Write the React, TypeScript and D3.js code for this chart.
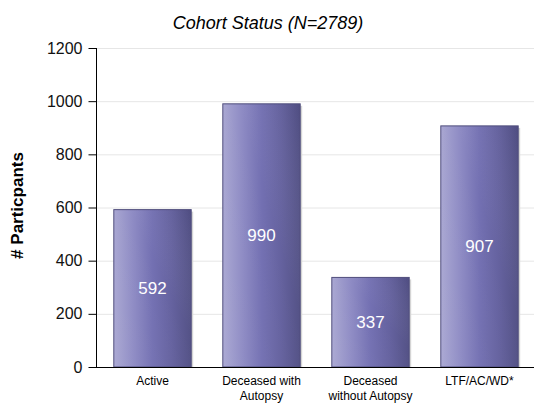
import React, { useEffect, useRef } from 'react';
import * as d3 from 'd3';

const categories = ['Active', 'Deceased with\nAutopsy', 'Deceased\nwithout Autopsy', 'LTF/AC/WD*'];
const values = [592, 990, 337, 907];
const yTicks = [0, 200, 400, 600, 800, 1000, 1200];

const width = 542;
const height = 412;
const margin = { top: 48, right: 8, bottom: 45, left: 96 };

function App() {
  const ref = useRef<SVGSVGElement>(null);

  useEffect(() => {
    const svg = d3.select(ref.current);
    svg.selectAll('*').remove();

    const x = d3.scaleBand<string>()
      .domain(categories)
      .range([margin.left + 2, width - margin.right])
      .paddingInner(0.29)
      .paddingOuter(0.145);

    const y = d3.scaleLinear()
      .domain([0, 1200])
      .range([height - margin.bottom, margin.top]);

    const defs = svg.append('defs');
    const grad = defs.append('linearGradient').attr('id', 'barGrad')
      .attr('x1', '0%').attr('x2', '100%').attr('y1', '0%').attr('y2', '0%');
    grad.append('stop').attr('offset', '0%').attr('stop-color', '#a9a7d2');
    grad.append('stop').attr('offset', '25%').attr('stop-color', '#8e8bc4');
    grad.append('stop').attr('offset', '50%').attr('stop-color', '#7370b2');
    grad.append('stop').attr('offset', '75%').attr('stop-color', '#65629f');
    grad.append('stop').attr('offset', '100%').attr('stop-color', '#545286');

    const shade = defs.append('linearGradient').attr('id', 'barShade')
      .attr('x1', '0%').attr('x2', '100%').attr('y1', '100%').attr('y2', '0%');
    shade.append('stop').attr('offset', '0%').attr('stop-color', '#fff').attr('stop-opacity', 0.04);
    shade.append('stop').attr('offset', '60%').attr('stop-color', '#fff').attr('stop-opacity', 0);
    shade.append('stop').attr('offset', '100%').attr('stop-color', '#2a2860').attr('stop-opacity', 0.12);

    // grid lines
    svg.append('g')
      .selectAll('line')
      .data(yTicks.slice(1))
      .join('line')
      .attr('x1', margin.left)
      .attr('x2', width - margin.right)
      .attr('y1', d => y(d) + 0.5)
      .attr('y2', d => y(d) + 0.5)
      .attr('stroke', '#e6e6e6')
      .attr('stroke-width', 1);

    // y axis
    const yAxis = svg.append('g')
      .attr('transform', `translate(${margin.left + 0.5},0)`)
      .call(d3.axisLeft(y).tickValues(yTicks).tickSize(8).tickPadding(6).tickFormat(d3.format('d')));
    yAxis.select('.domain').attr('d', `M0,${y(1200)}V${y(0)}`).attr('stroke', '#000');
    yAxis.selectAll('.tick line').attr('stroke', '#000');
    yAxis.selectAll('.tick text')
      .attr('font-family', 'Liberation Sans, Arial, sans-serif')
      .attr('font-size', 16)
      .attr('fill', '#111');

    const bars = svg.append('g')
      .selectAll('g')
      .data(values)
      .join('g');

    // shadow
    bars.append('rect')
      .attr('x', (d, i) => x(categories[i])! + 2)
      .attr('y', d => y(d) + 2)
      .attr('width', x.bandwidth())
      .attr('height', d => y(0) - y(d) - 2)
      .attr('fill', '#d4d4d4');

    bars.append('rect')
      .attr('x', (d, i) => x(categories[i])!)
      .attr('y', d => y(d))
      .attr('width', x.bandwidth())
      .attr('height', d => y(0) - y(d))
      .attr('fill', 'url(#barGrad)')
      .attr('stroke', '#4f4d7c')
      .attr('stroke-width', 1);

    bars.append('rect')
      .attr('x', (d, i) => x(categories[i])! + 0.5)
      .attr('y', d => y(d) + 0.5)
      .attr('width', x.bandwidth() - 1)
      .attr('height', d => y(0) - y(d) - 1)
      .attr('fill', 'url(#barShade)');

    bars.append('text')
      .attr('x', (d, i) => x(categories[i])! + x.bandwidth() / 2)
      .attr('y', d => (y(d) + y(0)) / 2 + 6)
      .attr('text-anchor', 'middle')
      .attr('font-family', 'Liberation Sans, Arial, sans-serif')
      .attr('font-size', 17)
      .attr('fill', '#fff')
      .text(d => d);

    // x axis line
    svg.append('line')
      .attr('x1', margin.left)
      .attr('x2', width - margin.right)
      .attr('y1', y(0) + 0.5)
      .attr('y2', y(0) + 0.5)
      .attr('stroke', '#000');

    // category labels
    const labels = svg.append('g')
      .selectAll('text')
      .data(categories)
      .join('text')
      .attr('x', d => x(d)! + x.bandwidth() / 2)
      .attr('y', y(0) + 18)
      .attr('text-anchor', 'middle')
      .attr('font-family', 'Liberation Sans, Arial, sans-serif')
      .attr('font-size', 12)
      .attr('fill', '#000');
    labels.each(function (d) {
      const t = d3.select(this);
      d.split('\n').forEach((line, i) => {
        t.append('tspan')
          .attr('x', x(d)! + x.bandwidth() / 2)
          .attr('dy', i === 0 ? 0 : 15)
          .text(line);
      });
    });

    // title
    svg.append('text')
      .attr('x', 268)
      .attr('y', 29)
      .attr('text-anchor', 'middle')
      .attr('font-family', 'Liberation Sans, Arial, sans-serif')
      .attr('font-size', 18)
      .attr('font-style', 'italic')
      .text('Cohort Status (N=2789)');

    // y axis title
    svg.append('text')
      .attr('transform', `translate(23,${(y(0) + y(1200)) / 2 - 2}) rotate(-90)`)
      .attr('text-anchor', 'middle')
      .attr('font-family', 'Liberation Sans, Arial, sans-serif')
      .attr('font-size', 17)
      .attr('font-weight', 'bold')
      .text('# Particpants');
  }, []);

  return <svg ref={ref} width={width} height={height} style={{ display: 'block', position: 'absolute', left: 0, top: 0 }} />;
}

export default App;
